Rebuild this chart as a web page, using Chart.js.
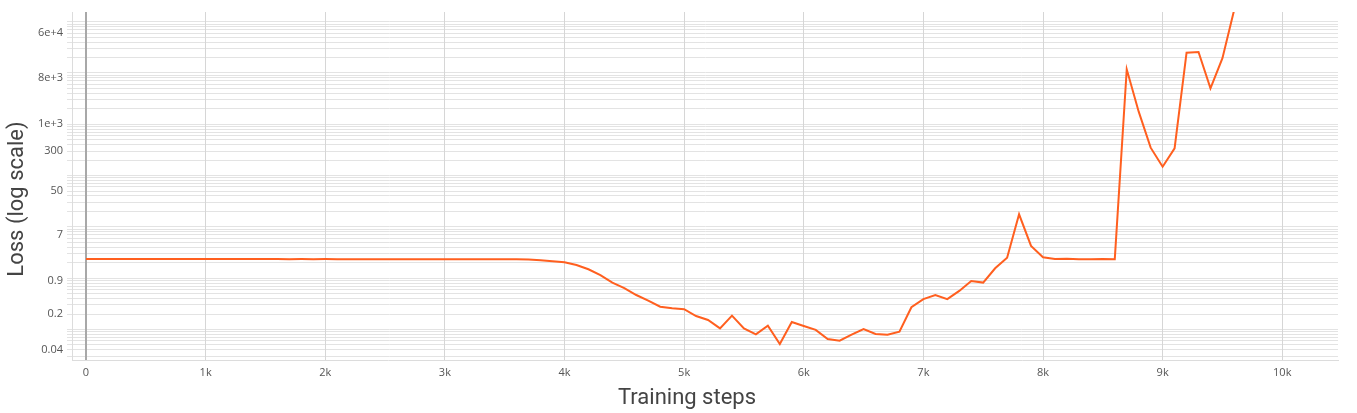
<!DOCTYPE html>
<html>
<head>
<meta charset="utf-8">
<script src="https://cdn.jsdelivr.net/npm/chart.js@4.4.1/dist/chart.umd.min.js"></script>
<style>
  html, body { margin: 0; padding: 0; background: #ffffff; }
  #wrap { width: 1357px; height: 413px; position: relative; }
</style>
</head>
<body>
<div id="wrap"><canvas id="c"></canvas></div>
<script>
const steps = [
  0, 100, 200, 300, 400, 500, 600, 700, 800, 900,
  1000, 1100, 1200, 1300, 1400, 1500, 1600, 1700, 1800, 1900,
  2000, 2100, 2200, 2300, 2400, 2500, 2600, 2700, 2800, 2900,
  3000, 3100, 3200, 3300, 3400, 3500, 3600, 3700, 3800, 3900,
  4000, 4100, 4200, 4300, 4400, 4500, 4600, 4700, 4800, 4900,
  5000, 5100, 5200, 5300, 5400, 5500, 5600, 5700, 5800, 5900,
  6000, 6100, 6200, 6300, 6400, 6500, 6600, 6700, 6800, 6900,
  7000, 7100, 7200, 7300, 7400, 7500, 7600, 7700, 7800, 7900,
  8000, 8100, 8200, 8300, 8400, 8500, 8600, 8700, 8800, 8900,
  9000, 9100, 9200, 9300, 9400, 9500, 9600
];
const loss = [
  2.37, 2.37, 2.37, 2.37, 2.37, 2.37, 2.37, 2.37, 2.37, 2.37,
  2.37, 2.37, 2.37, 2.37, 2.37, 2.36, 2.36, 2.35, 2.36, 2.35,
  2.36, 2.35, 2.35, 2.35, 2.35, 2.35, 2.35, 2.35, 2.35, 2.35,
  2.35, 2.35, 2.35, 2.35, 2.35, 2.35, 2.34, 2.32, 2.24, 2.14,
  2.04, 1.81, 1.49, 1.15, 0.82, 0.64, 0.47, 0.364, 0.278, 0.259,
  0.248, 0.183, 0.153, 0.105, 0.186, 0.105, 0.0805, 0.119, 0.052, 0.140,
  0.117, 0.098, 0.065, 0.0605, 0.079, 0.102, 0.082, 0.079, 0.0905, 0.271,
  0.39, 0.47, 0.39, 0.564, 0.88, 0.82, 1.56, 2.51, 17.6, 4.25,
  2.55, 2.37, 2.40, 2.35, 2.35, 2.37, 2.35, 11800, 1760, 350,
  149, 340, 24900, 25600, 5030, 19400, 177000
];
const xTickValues = [0, 1000, 2000, 3000, 4000, 5000, 6000, 7000, 8000, 9000, 10000];
const xTickLabels = ['0', '1k', '2k', '3k', '4k', '5k', '6k', '7k', '8k', '9k', '10k'];
const yTickValues = [60000, 8000, 1000, 300, 50, 7, 0.9, 0.2, 0.04];
const yTickLabels = ['6e+4', '8e+3', '1e+3', '300', '50', '7', '0.9', '0.2', '0.04'];
const xTitle = 'Training steps';
const yTitle = 'Loss (log scale)';
const yMin = 0.0254, yMax = 154500;
const xMin = -117, xMax = 10466;

const points = steps.map((s, i) => ({ x: s, y: loss[i] }));

function yGridTicks() {
  const out = [];
  for (let e = -2; e <= 5; e++) {
    for (let d = 1; d <= 9; d++) {
      const v = Number((d * Math.pow(10, e)).toPrecision(6));
      if (v >= yMin && v <= yMax) out.push({ value: v });
    }
  }
  return out;
}

const FONT = 'Roboto, "Open Sans", "DejaVu Sans", sans-serif';
const TICK_FONT = '"Open Sans", "DejaVu Sans", sans-serif';

const axisTitles = {
  id: 'axisTitles',
  afterDraw(chart) {
    const { ctx, chartArea } = chart;
    ctx.save();
    ctx.fillStyle = '#444';
    ctx.font = '22px ' + FONT;
    ctx.textAlign = 'center';
    ctx.textBaseline = 'middle';
    ctx.fillText(xTitle, (chartArea.left + chartArea.right) / 2 - 18, chart.height - 15);
    ctx.translate(17, (chartArea.top + chartArea.bottom) / 2 + 13);
    ctx.rotate(-Math.PI / 2);
    ctx.fillText(yTitle, 0, 0);
    ctx.restore();
  }
};

new Chart(document.getElementById('c'), {
  type: 'line',
  data: {
    datasets: [{
      data: points,
      borderColor: '#ff5f1f',
      borderWidth: 2,
      pointRadius: 0,
      tension: 0,
      fill: false
    }]
  },
  plugins: [axisTitles],
  options: {
    responsive: true,
    maintainAspectRatio: false,
    animation: false,
    layout: { padding: { left: 0, right: 19, top: 12, bottom: 0 } },
    plugins: { legend: { display: false }, tooltip: { enabled: false } },
    scales: {
      x: {
        type: 'linear',
        min: xMin,
        max: xMax,
        bounds: 'data',
        afterBuildTicks: (scale) => { scale.ticks = xTickValues.map(v => ({ value: v })); },
        afterFit: (scale) => { scale.height = 53; },
        ticks: {
          autoSkip: false,
          maxRotation: 0,
          padding: 6,
          color: '#555',
          font: { family: TICK_FONT, size: 11 },
          callback: (value) => {
            const i = xTickValues.indexOf(value);
            return i >= 0 ? xTickLabels[i] : '';
          }
        },
        grid: {
          drawTicks: false,
          z: -1,
          color: (ctx) => (ctx.tick && ctx.tick.value === 0) ? '#a8a8a8' : '#d6d6d6',
          lineWidth: (ctx) => (ctx.tick && ctx.tick.value === 0) ? 2 : 1
        },
        border: { display: true, color: '#dcdcdc', width: 1 },
        title: { display: false }
      },
      y: {
        type: 'logarithmic',
        min: yMin,
        max: yMax,
        bounds: 'data',
        afterBuildTicks: (scale) => { scale.ticks = yGridTicks(); },
        afterFit: (scale) => { scale.width = 72; },
        ticks: {
          autoSkip: false,
          padding: 4,
          color: '#555',
          font: { family: TICK_FONT, size: 11 },
          callback: (value) => {
            for (let i = 0; i < yTickValues.length; i++) {
              if (Math.abs(value - yTickValues[i]) / yTickValues[i] < 1e-6) return yTickLabels[i];
            }
            return '';
          }
        },
        grid: {
          z: -2,
          color: '#e3e3e3',
          lineWidth: 1,
          tickLength: 5
        },
        border: { display: true, color: '#dcdcdc', width: 1 },
        title: { display: false }
      }
    }
  }
});
</script>
</body>
</html>
